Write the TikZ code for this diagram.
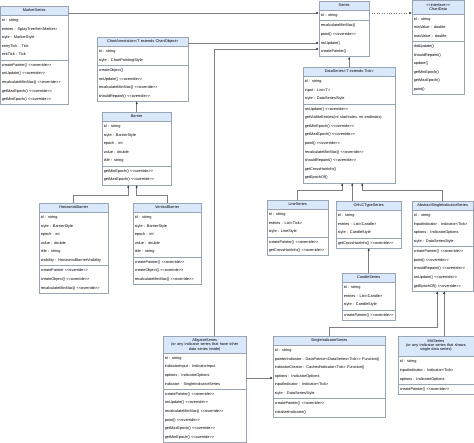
\documentclass[tikz,border=0pt]{standalone}
\usepackage{fontspec}
\setmainfont{Liberation Sans}
\usetikzlibrary{positioning,arrows.meta,calc,shapes.multipart}
\definecolor{hdrblue}{HTML}{DAE8FC}
\definecolor{boxline}{HTML}{9AA5B3}
\definecolor{linkgray}{HTML}{808080}
\setlength{\parindent}{0pt}
\newcommand{\rs}{\rule[-3.1pt]{0pt}{8.6pt}}
\newcommand{\hs}{\rule[-2.4pt]{0pt}{7.3pt}}
\newcommand{\mh}{\fontsize{3.85}{4.3}\selectfont}
\newcommand{\ovr}{<{}<override>{}>}

\begin{document}
\begin{tikzpicture}[x=1pt,y=-1pt,
  umlclass/.style={rectangle split, rectangle split parts=3, draw=boxline, line width=0.4pt,
    rectangle split part fill={hdrblue,white}, anchor=north west, inner xsep=1.6pt,
    inner ysep=0.65pt, text width=#1, align=left, font=\fontsize{3.85}{8.6}\selectfont},
  conn/.style={draw=linkgray, line width=0.45pt, -{Latex[length=2.6pt,width=2.2pt,color=black!80]}},
  real/.style={conn, dotted}]
\useasboundingbox (0,0) rectangle (474,442);
% classes, placed at their top left corners
\node[umlclass=64.8pt] (marker) at (0,6) {\centering\hs MarkerSeries\par
  \nodepart{two}\rs id : string\\entries : SplayTreeSet<Marker>\\style : MarkerStyle\\entryTick : Tick\\exitTick : Tick\rs
  \nodepart{three}\rs createPainter() \ovr\\onUpdate() \ovr\\recalculateMinMax() \ovr\\getMaxEpoch() \ovr\\getMinEpoch() \ovr\rs};
\node[umlclass=46.8pt] (series) at (319,1) {\centering\hs Series\par
  \nodepart{two}\rs id : string\rs
  \nodepart{three}\rs recalculateMinMax()\\paint() \ovr\\onUpdate()\\createPainter()\rs};
\node[umlclass=48.8pt] (chartdata) at (412,0) {\centering\mh\rule{0pt}{5.3pt}<{}<interface>{}>\\ChartData\rule[-2.2pt]{0pt}{2.2pt}\par
  \nodepart{two}\rs id : string\\minValue : double\\maxValue : double\rs
  \nodepart{three}\rs didUpdate()\\shouldRepaint()\\update()\\getMinEpoch()\\getMaxEpoch()\\paint()\rs};
\node[umlclass=87.8pt] (annot) at (97,37) {\centering\hs ChartAnnotation<T extends ChartObject>\par
  \nodepart{two}\rs id : string\\style : ChartPaintingStyle\rs
  \nodepart{three}\rs createObject()\\onUpdate() \ovr\\recalculateMinMax() \ovr\\shouldRepaint() \ovr\rs};
\node[umlclass=65.8pt] (barrier) at (102,112) {\centering\hs Barrier\par
  \nodepart{two}\rs id : string\\style : BarrierStyle\\epoch : int\\value : double\\title : string\rs
  \nodepart{three}\rs getMinEpoch() \ovr\\getMaxEpoch() \ovr\rs};
\node[umlclass=65.8pt] (hbarrier) at (39,203) {\centering\hs HorizontalBarrier\par
  \nodepart{two}\rs id : string\\style : BarrierStyle\\epoch : int\\value : double\\title : string\\visibility : HorizontalBarrierVisibility\rs
  \nodepart{three}\rs createPainter \ovr\\createObject() \ovr\\recalculateMinMax() \ovr\rs};
\node[umlclass=64.8pt] (vbarrier) at (133,203) {\centering\hs VerticalBarrier\par
  \nodepart{two}\rs id : string\\style : BarrierStyle\\epoch : int\\value : double\\title : string\rs
  \nodepart{three}\rs createPainter() \ovr\\createObject() \ovr\\recalculateMinMax() \ovr\rs};
\node[umlclass=88.8pt] (dataseries) at (303,67) {\centering\hs DataSeries<T extends Tick>\par
  \nodepart{two}\rs id : string\\input : List<T>\\style : DataSeriesStyle\rs
  \nodepart{three}\rs onUpdate() \ovr\\getVisibleEntries(int startIndex, int endIndex)\\getMinEpoch() \ovr\\getMaxEpoch() \ovr\\paint() \ovr\\recalculateMinMax() \ovr\\shouldRepaint() \ovr\\getCrossHairInfo()\\getEpochOf()\rs};
\node[umlclass=57.8pt] (line) at (267,200) {\centering\hs LineSeries\par
  \nodepart{two}\rs id : string\\entries : List<Tick>\\style : LineStyle\rs
  \nodepart{three}\rs createPainter() \ovr\\getCrossHairInfo() \ovr\rs};
\node[umlclass=61.8pt] (ohlc) at (336,201) {\centering\hs OHLCTypeSeries\par
  \nodepart{two}\rs id : string\\entries : List<Candle>\\style : CandleStyle\rs
  \nodepart{three}\rs getCrossHairInfo() \ovr\rs};
\node[umlclass=49.8pt] (candle) at (342,273) {\centering\hs CandleSeries\par
  \nodepart{two}\rs id : string\\entries : List<Candle>\\style : CandleStyle\rs
  \nodepart{three}\rs createPainter() \ovr\rs};
\node[umlclass=57.8pt] (abstract) at (412,201) {\centering\hs AbstractSingleIndicatorSeries\par
  \nodepart{two}\rs id : string\\inputIndicator : Indicator<Tick>\\options : IndicatorOptions\\style : DataSeriesStyle\rs
  \nodepart{three}\rs createPainter() \ovr\\paint() \ovr\\shouldRepaint() \ovr\\onUpdate() \ovr\\getEpochOf() \ovr\rs};
\node[umlclass=79.8pt] (alligator) at (163,336) {\centering\mh\rule{0pt}{4.6pt}AlligatorSeries\\(or any indicator series that have other\\data series inside)\rule[-1.8pt]{0pt}{1.8pt}\par
  \nodepart{two}\rs id : string\\indicatorInput : IndicatorInput\\options : IndicatorOptions\\indicator : SingleIndicatorSeries\rs
  \nodepart{three}\rs createPainter() \ovr\\onUpdate() \ovr\\recalculateMinMax() \ovr\\paint() \ovr\\getMaxEpoch() \ovr\\getMinEpoch() \ovr\rs};
\node[umlclass=108.8pt] (single) at (273,336) {\centering\hs SingleIndicatorSeries\par
  \nodepart{two}\rs id : string\\painterIndicator : DataPainter<DataSeries<Tick>{}> Function()\\indicatorCreator : CachedIndicator<Tick> Function()\\options : IndicatorOptions\\inputIndicator : Indicator<Tick>\\style : DataSeriesStyle\rs
  \nodepart{three}\rs createPainter() \ovr\\initializeIndicator()\rs};
\node[umlclass=72.3pt] (ma) at (398,336) {\centering\mh\rule{0pt}{5.2pt}MASeries\\(or any indicator series that shows\\single data series)\rule[-4.9pt]{0pt}{4.9pt}\par
  \nodepart{two}\rs id : string\\inputIndicator : Indicator<Tick>\\options : IndicatorOptions\rs
  \nodepart{three}\rs createPainter() \ovr\rs};
% entry points on the left of Series and elsewhere
\coordinate (s1) at ($(series.north west)+(0,12)$);
\coordinate (s2) at ($(series.north west)+(0,42)$);
\coordinate (s3) at ($(series.north west)+(0,48)$);
\coordinate (d2) at ($(dataseries.south)+(3,0)$);
\coordinate (a2) at ($(abstract.south)+(1.5,0)$);
\coordinate (sg) at ($(single.north west)+(0,42)$);
% links
\draw[conn] (marker.east |- s1) -- (s1);
\draw[conn] (annot.east |- s2) -- (s2);
\draw[conn] ($(alligator.north west)+(51,0)$) |- (s3);
\draw[real] (series.east |- s1) -- (chartdata.west |- s1);
\draw[conn] (dataseries.north) -- (dataseries.north |- series.south);
\draw[conn] (barrier.north) -- (barrier.north |- annot.south);
\draw[conn] (hbarrier.north) -- ++(0,-8) -| ($(barrier.south)+(-8.5,0)$);
\draw[conn] (vbarrier.north) -- ++(0,-8) -| (barrier.south);
\draw[conn] (line.north) -- ++(0,-10) -| ($(dataseries.south)+(-7,0)$);
\draw[conn] (ohlc.north -| d2) -- (d2);
\draw[conn] (abstract.north) -- ++(0,-11) -| ($(dataseries.south)+(13,0)$);
\draw[conn] (candle.north) -- (ohlc.south);
\draw[conn] (single.north) -- ++(0,-9) -| ($(abstract.south)+(-5.5,0)$);
\draw[conn] (ma.north -| a2) -- (a2);
\draw[conn] (alligator.east |- sg) -- (sg);
\end{tikzpicture}
\end{document}
